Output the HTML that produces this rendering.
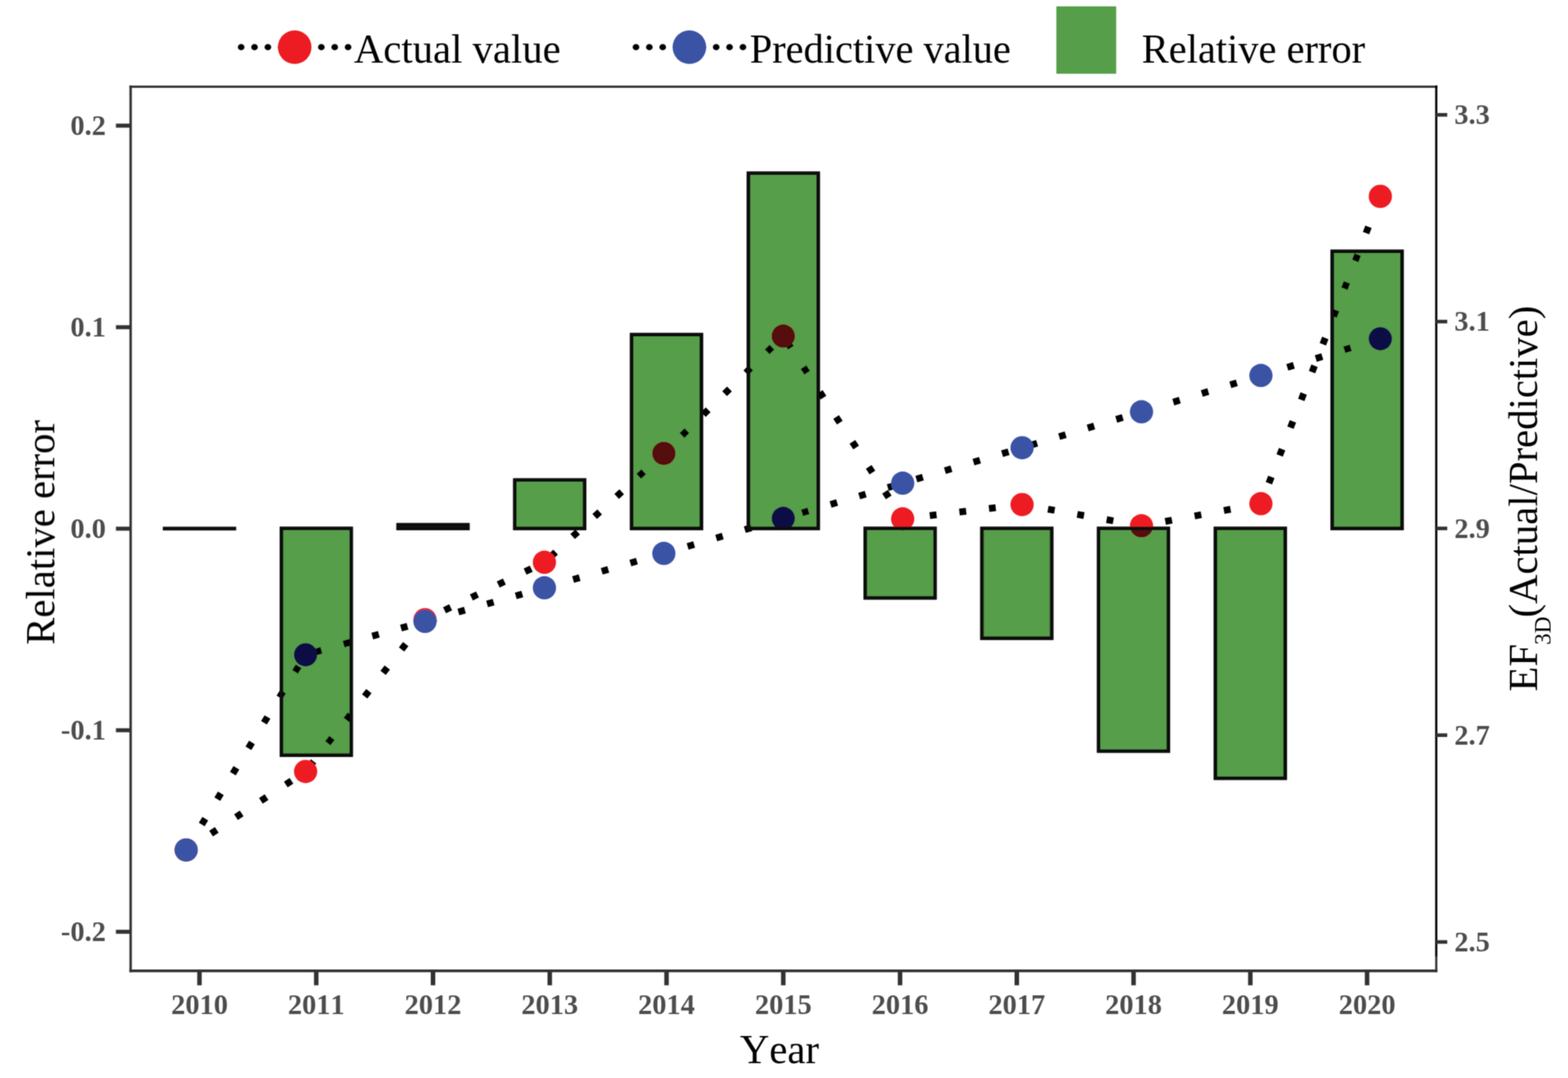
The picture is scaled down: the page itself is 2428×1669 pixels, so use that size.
<!DOCTYPE html>
<html><head><meta charset="utf-8"><title>Relative error chart</title>
<style>
html,body{margin:0;padding:0;background:#fff;}
body{width:2428px;height:1669px;overflow:hidden;}
svg{display:block;}
text{font-kerning:none;}
.tk{font-family:"Liberation Serif","Times New Roman",serif;font-weight:bold;font-size:44px;fill:#4D4D4D;}
.ti{font-family:"Liberation Serif","Times New Roman",serif;font-size:63px;fill:#000;}
.lg{font-family:"Liberation Serif","Times New Roman",serif;font-size:63px;fill:#000;}
</style></head><body>
<svg width="2428" height="1669" viewBox="0 0 2428 1669">
<rect width="100%" height="100%" fill="#fff"/>
<filter id="soft" x="0" y="0" width="2428" height="1669" filterUnits="userSpaceOnUse"><feConvolveMatrix order="3" kernelMatrix="1 2 1 2 4 2 1 2 1" divisor="16" edgeMode="duplicate"/></filter><g filter="url(#soft)">
<defs><clipPath id="barclip">
<rect x="254.90" y="818.50" width="108.00" height="0.00"/>
<rect x="435.70" y="818.20" width="108.00" height="351.10"/>
<rect x="616.50" y="812.50" width="108.00" height="5.70"/>
<rect x="797.30" y="743.30" width="108.00" height="74.90"/>
<rect x="978.10" y="518.20" width="108.00" height="300.00"/>
<rect x="1158.90" y="268.30" width="108.00" height="549.90"/>
<rect x="1339.70" y="818.20" width="108.00" height="107.40"/>
<rect x="1520.50" y="818.20" width="108.00" height="170.00"/>
<rect x="1701.30" y="818.20" width="108.00" height="344.50"/>
<rect x="1882.10" y="818.20" width="108.00" height="386.60"/>
<rect x="2062.90" y="389.20" width="108.00" height="429.00"/>
</clipPath></defs>
<line x1="200.4" y1="134.2" x2="2225.7" y2="134.2" stroke="#333" stroke-width="3.4"/>
<line x1="200.4" y1="1503.2" x2="2225.7" y2="1503.2" stroke="#333" stroke-width="4.2"/>
<line x1="202.3" y1="132.5" x2="202.3" y2="1505.3" stroke="#333" stroke-width="3.8"/>
<line x1="2224.0" y1="132.5" x2="2224.0" y2="1481" stroke="#000" stroke-width="3.4"/>
<line x1="2224.0" y1="1481" x2="2224.0" y2="1505.3" stroke="#333" stroke-width="3.4"/>
<rect x="254.90" y="818.50" width="108.00" height="0.00" fill="#579E48" stroke="#0a0a0a" stroke-width="5.4" stroke-linejoin="miter"/>
<rect x="435.70" y="818.20" width="108.00" height="351.10" fill="#579E48" stroke="#0a0a0a" stroke-width="5.4" stroke-linejoin="miter"/>
<rect x="616.50" y="812.50" width="108.00" height="5.70" fill="#579E48" stroke="#0a0a0a" stroke-width="5.4" stroke-linejoin="miter"/>
<rect x="797.30" y="743.30" width="108.00" height="74.90" fill="#579E48" stroke="#0a0a0a" stroke-width="5.4" stroke-linejoin="miter"/>
<rect x="978.10" y="518.20" width="108.00" height="300.00" fill="#579E48" stroke="#0a0a0a" stroke-width="5.4" stroke-linejoin="miter"/>
<rect x="1158.90" y="268.30" width="108.00" height="549.90" fill="#579E48" stroke="#0a0a0a" stroke-width="5.4" stroke-linejoin="miter"/>
<rect x="1339.70" y="818.20" width="108.00" height="107.40" fill="#579E48" stroke="#0a0a0a" stroke-width="5.4" stroke-linejoin="miter"/>
<rect x="1520.50" y="818.20" width="108.00" height="170.00" fill="#579E48" stroke="#0a0a0a" stroke-width="5.4" stroke-linejoin="miter"/>
<rect x="1701.30" y="818.20" width="108.00" height="344.50" fill="#579E48" stroke="#0a0a0a" stroke-width="5.4" stroke-linejoin="miter"/>
<rect x="1882.10" y="818.20" width="108.00" height="386.60" fill="#579E48" stroke="#0a0a0a" stroke-width="5.4" stroke-linejoin="miter"/>
<rect x="2062.90" y="389.20" width="108.00" height="429.00" fill="#579E48" stroke="#0a0a0a" stroke-width="5.4" stroke-linejoin="miter"/>
<line x1="252.10" y1="818.3" x2="365.70" y2="818.3" stroke="#0a0a0a" stroke-width="5.8"/>
<polyline points="288.30,1315.90 473.21,1194.40 658.12,959.40 843.03,870.60 1027.94,701.90 1212.85,520.30 1397.76,803.30 1582.67,781.20 1767.58,814.10 1952.49,779.80 2137.40,304.00" fill="none" stroke="#000" stroke-width="10.5" stroke-dasharray="10.5 35.65" stroke-linecap="butt" stroke-linejoin="miter"/>
<polyline points="288.30,1315.90 473.21,1013.70 658.12,962.00 843.03,910.10 1027.94,856.80 1212.85,802.60 1397.76,748.10 1582.67,693.20 1767.58,637.60 1952.49,581.30 2137.40,524.40" fill="none" stroke="#000" stroke-width="10.5" stroke-dasharray="10.5 35.65" stroke-linecap="butt" stroke-linejoin="miter"/>
<circle cx="288.30" cy="1315.90" r="18" fill="#ED1C24"/>
<circle cx="288.30" cy="1315.90" r="18" fill="#540C0E" clip-path="url(#barclip)"/>
<circle cx="473.21" cy="1194.40" r="18" fill="#ED1C24"/>
<circle cx="473.21" cy="1194.40" r="18" fill="#540C0E" clip-path="url(#barclip)"/>
<circle cx="658.12" cy="959.40" r="18" fill="#ED1C24"/>
<circle cx="658.12" cy="959.40" r="18" fill="#540C0E" clip-path="url(#barclip)"/>
<circle cx="843.03" cy="870.60" r="18" fill="#ED1C24"/>
<circle cx="843.03" cy="870.60" r="18" fill="#540C0E" clip-path="url(#barclip)"/>
<circle cx="1027.94" cy="701.90" r="18" fill="#ED1C24"/>
<circle cx="1027.94" cy="701.90" r="18" fill="#540C0E" clip-path="url(#barclip)"/>
<circle cx="1212.85" cy="520.30" r="18" fill="#ED1C24"/>
<circle cx="1212.85" cy="520.30" r="18" fill="#540C0E" clip-path="url(#barclip)"/>
<circle cx="1397.76" cy="803.30" r="18" fill="#ED1C24"/>
<circle cx="1397.76" cy="803.30" r="18" fill="#540C0E" clip-path="url(#barclip)"/>
<circle cx="1582.67" cy="781.20" r="18" fill="#ED1C24"/>
<circle cx="1582.67" cy="781.20" r="18" fill="#540C0E" clip-path="url(#barclip)"/>
<circle cx="1767.58" cy="814.10" r="18" fill="#ED1C24"/>
<circle cx="1767.58" cy="814.10" r="18" fill="#540C0E" clip-path="url(#barclip)"/>
<circle cx="1952.49" cy="779.80" r="18" fill="#ED1C24"/>
<circle cx="1952.49" cy="779.80" r="18" fill="#540C0E" clip-path="url(#barclip)"/>
<circle cx="2137.40" cy="304.00" r="18" fill="#ED1C24"/>
<circle cx="2137.40" cy="304.00" r="18" fill="#540C0E" clip-path="url(#barclip)"/>
<circle cx="288.30" cy="1315.90" r="18" fill="#3A53A5"/>
<circle cx="288.30" cy="1315.90" r="18" fill="#110F44" clip-path="url(#barclip)"/>
<circle cx="473.21" cy="1013.70" r="18" fill="#3A53A5"/>
<circle cx="473.21" cy="1013.70" r="18" fill="#110F44" clip-path="url(#barclip)"/>
<circle cx="658.12" cy="962.00" r="18" fill="#3A53A5"/>
<circle cx="658.12" cy="962.00" r="18" fill="#110F44" clip-path="url(#barclip)"/>
<circle cx="843.03" cy="910.10" r="18" fill="#3A53A5"/>
<circle cx="843.03" cy="910.10" r="18" fill="#110F44" clip-path="url(#barclip)"/>
<circle cx="1027.94" cy="856.80" r="18" fill="#3A53A5"/>
<circle cx="1027.94" cy="856.80" r="18" fill="#110F44" clip-path="url(#barclip)"/>
<circle cx="1212.85" cy="802.60" r="18" fill="#3A53A5"/>
<circle cx="1212.85" cy="802.60" r="18" fill="#110F44" clip-path="url(#barclip)"/>
<circle cx="1397.76" cy="748.10" r="18" fill="#3A53A5"/>
<circle cx="1397.76" cy="748.10" r="18" fill="#110F44" clip-path="url(#barclip)"/>
<circle cx="1582.67" cy="693.20" r="18" fill="#3A53A5"/>
<circle cx="1582.67" cy="693.20" r="18" fill="#110F44" clip-path="url(#barclip)"/>
<circle cx="1767.58" cy="637.60" r="18" fill="#3A53A5"/>
<circle cx="1767.58" cy="637.60" r="18" fill="#110F44" clip-path="url(#barclip)"/>
<circle cx="1952.49" cy="581.30" r="18" fill="#3A53A5"/>
<circle cx="1952.49" cy="581.30" r="18" fill="#110F44" clip-path="url(#barclip)"/>
<circle cx="2137.40" cy="524.40" r="18" fill="#3A53A5"/>
<circle cx="2137.40" cy="524.40" r="18" fill="#110F44" clip-path="url(#barclip)"/>
<rect x="254.90" y="818.50" width="108.00" height="0.00" fill="none" stroke="#0a0a0a" stroke-width="5.4"/>
<rect x="435.70" y="818.20" width="108.00" height="351.10" fill="none" stroke="#0a0a0a" stroke-width="5.4"/>
<rect x="616.50" y="812.50" width="108.00" height="5.70" fill="none" stroke="#0a0a0a" stroke-width="5.4"/>
<rect x="797.30" y="743.30" width="108.00" height="74.90" fill="none" stroke="#0a0a0a" stroke-width="5.4"/>
<rect x="978.10" y="518.20" width="108.00" height="300.00" fill="none" stroke="#0a0a0a" stroke-width="5.4"/>
<rect x="1158.90" y="268.30" width="108.00" height="549.90" fill="none" stroke="#0a0a0a" stroke-width="5.4"/>
<rect x="1339.70" y="818.20" width="108.00" height="107.40" fill="none" stroke="#0a0a0a" stroke-width="5.4"/>
<rect x="1520.50" y="818.20" width="108.00" height="170.00" fill="none" stroke="#0a0a0a" stroke-width="5.4"/>
<rect x="1701.30" y="818.20" width="108.00" height="344.50" fill="none" stroke="#0a0a0a" stroke-width="5.4"/>
<rect x="1882.10" y="818.20" width="108.00" height="386.60" fill="none" stroke="#0a0a0a" stroke-width="5.4"/>
<rect x="2062.90" y="389.20" width="108.00" height="429.00" fill="none" stroke="#0a0a0a" stroke-width="5.4"/>
<line x1="179.5" y1="194.5" x2="202.3" y2="194.5" stroke="#333" stroke-width="6.2"/>
<text x="164" y="209.0" text-anchor="end" class="tk">0.2</text>
<line x1="179.5" y1="506.6" x2="202.3" y2="506.6" stroke="#333" stroke-width="6.2"/>
<text x="164" y="521.1" text-anchor="end" class="tk">0.1</text>
<line x1="179.5" y1="818.5" x2="202.3" y2="818.5" stroke="#333" stroke-width="6.2"/>
<text x="164" y="833.0" text-anchor="end" class="tk">0.0</text>
<line x1="179.5" y1="1130.6" x2="202.3" y2="1130.6" stroke="#333" stroke-width="6.2"/>
<text x="164" y="1145.1" text-anchor="end" class="tk">-0.1</text>
<line x1="179.5" y1="1442.6" x2="202.3" y2="1442.6" stroke="#333" stroke-width="6.2"/>
<text x="164" y="1457.1" text-anchor="end" class="tk">-0.2</text>
<line x1="2224.0" y1="177.8" x2="2241" y2="177.8" stroke="#333" stroke-width="5.6"/>
<text x="2252" y="192.3" class="tk">3.3</text>
<line x1="2224.0" y1="497.9" x2="2241" y2="497.9" stroke="#333" stroke-width="5.6"/>
<text x="2252" y="512.4" class="tk">3.1</text>
<line x1="2224.0" y1="818.1" x2="2241" y2="818.1" stroke="#333" stroke-width="5.6"/>
<text x="2252" y="832.6" class="tk">2.9</text>
<line x1="2224.0" y1="1138.2" x2="2241" y2="1138.2" stroke="#333" stroke-width="5.6"/>
<text x="2252" y="1152.7" class="tk">2.7</text>
<line x1="2224.0" y1="1458.4" x2="2241" y2="1458.4" stroke="#333" stroke-width="5.6"/>
<text x="2252" y="1472.9" class="tk">2.5</text>
<line x1="308.90" y1="1503.2" x2="308.90" y2="1525.5" stroke="#333" stroke-width="7"/>
<text x="308.90" y="1570" text-anchor="middle" class="tk">2010</text>
<line x1="489.70" y1="1503.2" x2="489.70" y2="1525.5" stroke="#333" stroke-width="7"/>
<text x="489.70" y="1570" text-anchor="middle" class="tk">2011</text>
<line x1="670.50" y1="1503.2" x2="670.50" y2="1525.5" stroke="#333" stroke-width="7"/>
<text x="670.50" y="1570" text-anchor="middle" class="tk">2012</text>
<line x1="851.30" y1="1503.2" x2="851.30" y2="1525.5" stroke="#333" stroke-width="7"/>
<text x="851.30" y="1570" text-anchor="middle" class="tk">2013</text>
<line x1="1032.10" y1="1503.2" x2="1032.10" y2="1525.5" stroke="#333" stroke-width="7"/>
<text x="1032.10" y="1570" text-anchor="middle" class="tk">2014</text>
<line x1="1212.90" y1="1503.2" x2="1212.90" y2="1525.5" stroke="#333" stroke-width="7"/>
<text x="1212.90" y="1570" text-anchor="middle" class="tk">2015</text>
<line x1="1393.70" y1="1503.2" x2="1393.70" y2="1525.5" stroke="#333" stroke-width="7"/>
<text x="1393.70" y="1570" text-anchor="middle" class="tk">2016</text>
<line x1="1574.50" y1="1503.2" x2="1574.50" y2="1525.5" stroke="#333" stroke-width="7"/>
<text x="1574.50" y="1570" text-anchor="middle" class="tk">2017</text>
<line x1="1755.30" y1="1503.2" x2="1755.30" y2="1525.5" stroke="#333" stroke-width="7"/>
<text x="1755.30" y="1570" text-anchor="middle" class="tk">2018</text>
<line x1="1936.10" y1="1503.2" x2="1936.10" y2="1525.5" stroke="#333" stroke-width="7"/>
<text x="1936.10" y="1570" text-anchor="middle" class="tk">2019</text>
<line x1="2116.90" y1="1503.2" x2="2116.90" y2="1525.5" stroke="#333" stroke-width="7"/>
<text x="2116.90" y="1570" text-anchor="middle" class="tk">2020</text>
<text x="1207" y="1646" text-anchor="middle" class="ti">Year</text>
<text transform="translate(84,824.3) rotate(-90)" text-anchor="middle" class="ti">Relative error</text>
<text transform="translate(2380,1070.5) rotate(-90)" class="ti">EF</text>
<text transform="translate(2401,998.5) rotate(-90)" class="ti" style="font-size:36px">3D</text>
<text transform="translate(2380,956) rotate(-90)" class="ti">(Actual/Predictive)</text>
<line x1="373.0" y1="73" x2="539.5" y2="73" stroke="#000" stroke-width="9.5" stroke-dasharray="0.8 19.9" stroke-linecap="round"/>
<circle cx="456.3" cy="73" r="26" fill="#ED1C24"/>
<text x="548" y="96.5" class="lg">Actual value</text>
<line x1="984.4" y1="73" x2="1150.9" y2="73" stroke="#000" stroke-width="9.5" stroke-dasharray="0.8 19.9" stroke-linecap="round"/>
<circle cx="1067.5" cy="73" r="26" fill="#3A53A5"/>
<text x="1161" y="96.5" class="lg" style="font-size:62.5px">Predictive value</text>
<rect x="1635.7" y="9.8" width="92.7" height="104.4" fill="#579E48"/>
<text x="1768" y="96.5" class="lg" style="font-size:62.6px">Relative error</text>
</g></svg>
</body></html>
